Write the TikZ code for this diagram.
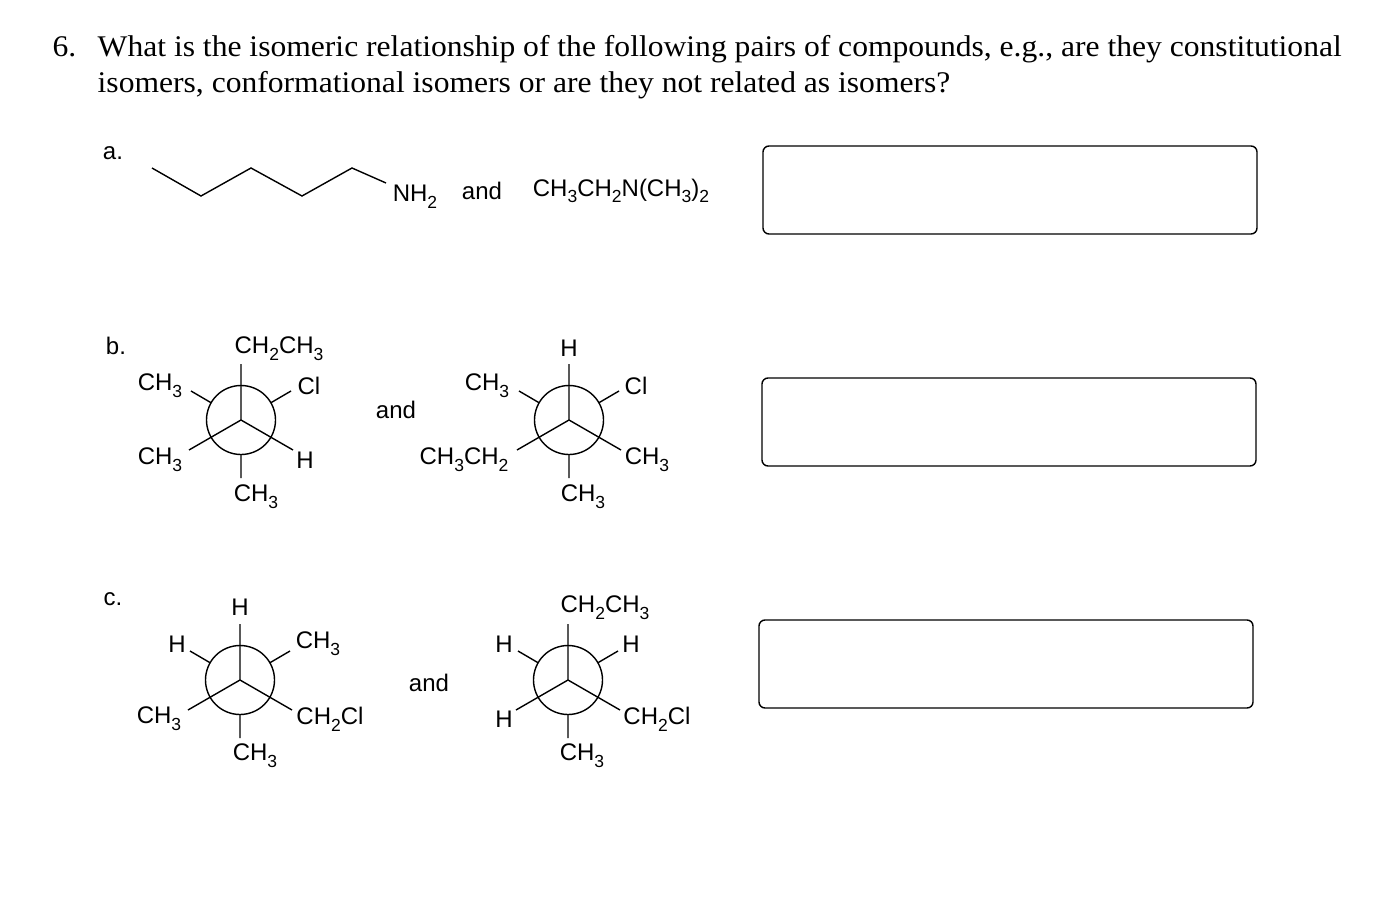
\documentclass[tikz,border=0pt]{standalone}
\usepackage{fontspec}
\setmainfont{Liberation Sans}
\newfontfamily\qfont{Liberation Serif}
\newcommand\subs[1]{\raisebox{-0.28em}{\fontsize{17.5}{17.5}\selectfont #1}}
\newcommand\qtext[1]{\scalebox{1.053}[1]{#1}}
\begin{document}
\begin{tikzpicture}[x=1pt,y=-1pt,line width=1.4pt,
  lbl/.style={inner sep=0pt,font=\fontsize{24}{26}\selectfont},
  qt/.style={anchor=base west,inner sep=0pt,font=\qfont\fontsize{30}{36}\selectfont},
  ans/.style={draw,rounded corners=6pt,line width=1.4pt,minimum width=494pt,minimum height=88pt}]
\useasboundingbox (0,0) rectangle (1395,912);
\node[qt] (qn) at (52,57) {\qtext{6.}};
\node[qt] (q1) at (97,57) {\qtext{What is the isomeric relationship of the following pairs of compounds, e.g., are they constitutional}};
\node[qt] (q2) at (97,93) {\qtext{isomers, conformational isomers or are they not related as isomers?}};
% part a
\node[lbl] (la) at (113,153) {a.};
\coordinate (z1) at (152,168); \coordinate (z2) at (201,196); \coordinate (z3) at (251,168);
\coordinate (z4) at (302,196); \coordinate (z5) at (352,168); \coordinate (z6) at (386,183);
\draw (z1)--(z2)--(z3)--(z4)--(z5)--(z6);
\node[lbl] (nh2) at (415,197) {NH\subs{2}};
\node[lbl] (anda) at (482,191) {and};
\node[lbl] (amine) at (621,191) {CH\subs{3}CH\subs{2}N(CH\subs{3})\subs{2}};
\node[ans] (ba) at (1010,190) {};
\newcommand\newman{%
 \draw (0,0) circle (34.5);
 \draw (0,0)--(0,-56) (0,0)--(-52,30) (0,0)--(52,30);
 \draw (-30,-17.3)--(-50,-29) (30,-17.3)--(50,-29) (0,34.5)--(0,58);}
\node[lbl] (lb) at (116,346) {b.};
\begin{scope}[shift={(241,420)}]\newman\end{scope}
\node[lbl] at (279,349) {CH\subs{2}CH\subs{3}};
\node[lbl] at (160,386) {CH\subs{3}};
\node[lbl] at (309,386) {Cl};
\node[lbl] at (160,460) {CH\subs{3}};
\node[lbl] at (305,460) {H};
\node[lbl] at (256,497) {CH\subs{3}};
\node[lbl] (andb) at (396,410) {and};
\begin{scope}[shift={(569,420)}]\newman\end{scope}
\node[lbl] at (569,348) {H};
\node[lbl] at (487,386) {CH\subs{3}};
\node[lbl] at (636,386) {Cl};
\node[lbl] at (464,460) {CH\subs{3}CH\subs{2}};
\node[lbl] at (647,460) {CH\subs{3}};
\node[lbl] at (583,497) {CH\subs{3}};
\node[ans] (bb) at (1009,422) {};
% part c
\node[lbl] (lc) at (113,599) {c.};
\begin{scope}[shift={(240,680)}]\newman\end{scope}
\node[lbl] at (240,607) {H};
\node[lbl] at (177,644) {H};
\node[lbl] at (318,644) {CH\subs{3}};
\node[lbl] at (159,719) {CH\subs{3}};
\node[lbl] at (330,719) {CH\subs{2}Cl};
\node[lbl] at (255,756) {CH\subs{3}};
\node[lbl] (andc) at (429,683) {and};
\begin{scope}[shift={(568,680)}]\newman\end{scope}
\node[lbl] at (605,608) {CH\subs{2}CH\subs{3}};
\node[lbl] at (504,644) {H};
\node[lbl] at (631,644) {H};
\node[lbl] at (504,719) {H};
\node[lbl] at (657,719) {CH\subs{2}Cl};
\node[lbl] at (582,756) {CH\subs{3}};
\node[ans] (bc) at (1006,664) {};
\end{tikzpicture}
\end{document}
